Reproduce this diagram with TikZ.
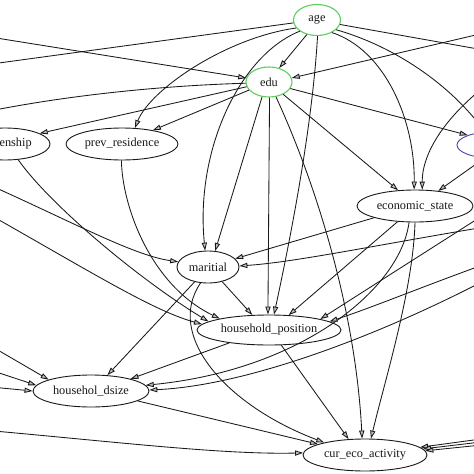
\documentclass[tikz,border=0pt]{standalone}
\usepackage{fontspec}
\setmainfont{Liberation Serif}
\usetikzlibrary{arrows.meta,shapes.geometric}
\definecolor{gvgreen}{RGB}{95,205,95}
\definecolor{gvblue}{RGB}{70,70,175}
\definecolor{ink}{RGB}{25,25,25}
\begin{document}
\begin{tikzpicture}[x=1pt,y=-1pt,
  nd/.style={draw=ink, ellipse, inner sep=0pt, line width=0.9pt, font=\fontsize{12.3}{14}\selectfont, text=ink},
  grn/.style={nd, draw=gvgreen, line width=1.1pt},
  edge/.style={draw=ink, line width=0.85pt, -{Triangle[length=8pt,width=5.2pt,fill=gray!50]}}]
\useasboundingbox (0,0) rectangle (474,474);
\clip (0,0) rectangle (474,474);
\fill[white] (0,0) rectangle (474,474);
% nodes
\node[grn, minimum width=47pt, minimum height=31pt] (age) at (317,20) {age};
\node[grn, minimum width=46pt, minimum height=30pt] (edu) at (269,82) {edu};
\node[nd, draw=gvblue, minimum width=70pt, minimum height=26pt] (blue) at (492,145) {};
\node[nd, minimum width=116pt, minimum height=32pt] (econ) at (415,206) {economic\_state};
\node[nd, minimum width=90pt, minimum height=32pt] (cit) at (5,144) {citizenship};
\node[nd, minimum width=112pt, minimum height=32pt] (prev) at (122,144) {prev\_residence};
\node[nd, minimum width=62pt, minimum height=32pt] (mar) at (208,267) {maritial};
\node[nd, minimum width=144pt, minimum height=30pt] (hpos) at (269,330) {household\_position};
\node[nd, minimum width=116pt, minimum height=32pt] (hsize) at (91,391) {househol\_dsize};
\node[nd, minimum width=124pt, minimum height=32pt] (cur) at (365,455) {cur\_eco\_activity};
% off-picture ends
\coordinate (oL1) at (-60,29);
\coordinate (oL2) at (-60,71);
\coordinate (oL3) at (-60,122);
\coordinate (oL4) at (-40,172);
\coordinate (oL5) at (-40,198);
\coordinate (oL6) at (-40,328);
\coordinate (oL7) at (-40,360);
\coordinate (oL8) at (-40,384);
\coordinate (oL9) at (-40,428);
\coordinate (oR1) at (540,20);
\coordinate (oR2) at (540,60);
\coordinate (oR4) at (500,75);
\coordinate (oR5) at (540,218);
\coordinate (oR6) at (540,179);
\coordinate (oR7) at (540,245);
\coordinate (oR8) at (540,250);
\coordinate (oR9) at (540,431);
\coordinate (oR10) at (540,435);
\coordinate (oR11) at (540,439);
% edges around age and edu
\draw[edge] (oL1) -- (edu.170);
\draw[edge] (age.187) -- (oL2);
\draw[edge] (age.201) .. controls (225,38) and (150,90) .. (prev.51);
\draw[edge] (edu.192) -- (cit.17);
\draw[edge] (edu.202) -- (prev.24);
\draw[edge] (edu.183) .. controls (150,86) and (40,98) .. (oL3);
\draw[edge] (age.235) -- (edu.54);
\draw[edge] (oR1) -- (edu.10);
\draw[edge] (age.349) -- (oR2);
\draw[edge] (age.333) .. controls (390,45) and (445,80) .. (blue.118);
\draw[edge] (age.320) .. controls (385,50) and (415,120) .. (econ.93);
\draw[edge] (age.272) .. controls (312,130) and (290,240) .. (hpos.72);
\draw[edge] (edu.272) -- (hpos.94);
\draw[edge] (edu.245) -- (mar.66);
\draw[edge] (age.213) .. controls (240,55) and (195,150) .. (mar.100);
\draw[edge] (edu.295) .. controls (310,170) and (355,300) .. (cur.100);
\draw[edge] (edu.319) -- (econ.137);
\draw[edge] (edu.343) -- (blue.158);
% economic_state
\draw[edge] (oR4) .. controls (450,110) and (422,150) .. (econ.66);
\draw[edge] (blue.240) -- (econ.33);
\draw[edge] (econ.196) -- (mar.17);
\draw[edge] (oR5) .. controls (400,240) and (300,262) .. (mar.2);
\draw[edge] (econ.222) -- (hpos.37);
\draw[edge] (econ.270) .. controls (413,290) and (385,380) .. (cur.70);
\draw[edge] (econ.250) .. controls (400,290) and (300,370) .. (hsize.6);
\draw[edge] (oR8) .. controls (420,320) and (260,385) .. (hsize.1);
\draw[edge] (oR6) -- (hpos.12);
\draw[edge] (oR7) .. controls (450,275) and (380,305) .. (hpos.8);
\draw[edge] (oR9) -- (cur.8);
\draw[edge] (oR10) -- (cur.6);
\draw[edge] (oR11) -- (cur.4);
% lower part
\draw[edge] (hpos.309) -- (cur.136);
\draw[edge] (hpos.198) -- (hsize.17);
\draw[edge] (mar.228) -- (hsize.44);
\draw[edge] (mar.314) -- (hpos.138);
\draw[edge] (mar.245) .. controls (165,335) and (225,405) .. (cur.163);
\draw[edge] (hsize.348) -- (cur.167);
\draw[edge] (oL9) .. controls (100,440) and (220,455) .. (cur.178);
\draw[edge] (prev.268) .. controls (122,205) and (150,285) .. (hpos.167);
\draw[edge] (cit.310) .. controls (50,205) and (140,280) .. (hpos.172);
\draw[edge] (oL4) .. controls (60,215) and (130,255) .. (mar.170);
\draw[edge] (oL5) .. controls (80,265) and (150,310) .. (hpos.175);
\draw[edge] (oL6) -- (hsize.165);
\draw[edge] (oL7) -- (hsize.174);
\draw[edge] (oL8) -- (hsize.180);
\end{tikzpicture}
\end{document}
